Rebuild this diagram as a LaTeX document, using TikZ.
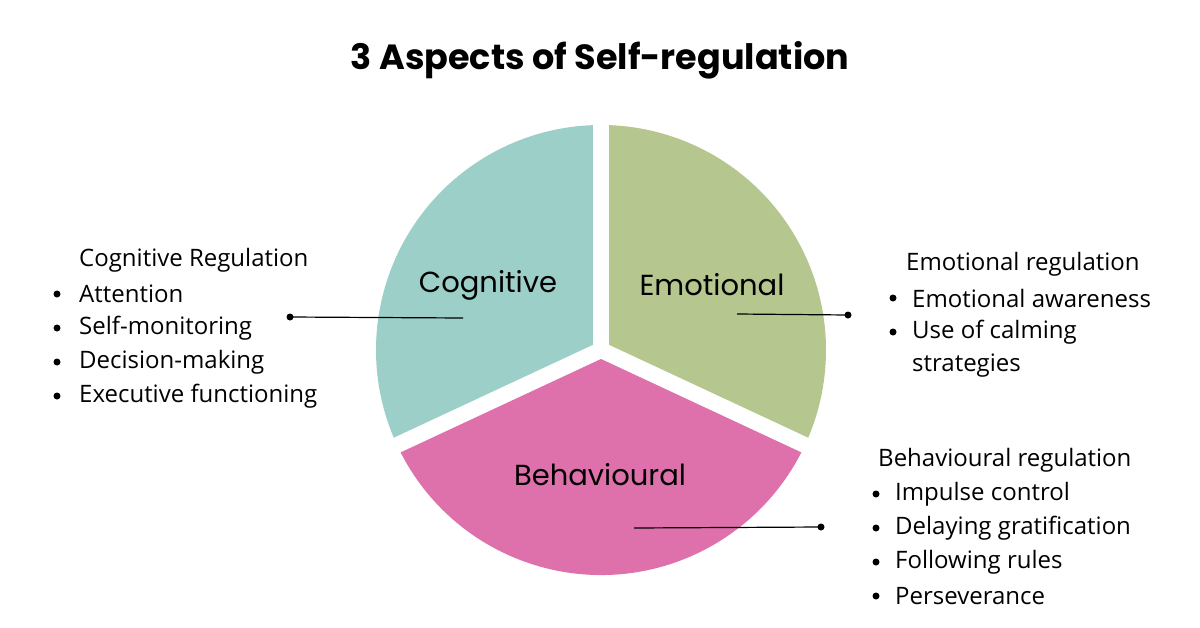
\documentclass[tikz,border=0pt]{standalone}
\usepackage{fontspec}
\setmainfont{Open Sans}
\newfontfamily\titlefont{Poppins}
\begin{document}
\begin{tikzpicture}[x=1pt,y=-1pt,
  txt/.style={anchor=west,inner sep=0pt,font=\fontsize{24}{26}\selectfont},
  bul/.style={circle,fill=black,inner sep=0pt,minimum size=7pt},
  lab/.style={font=\titlefont\fontsize{29}{32}\selectfont},
  conn/.style={line width=1.2pt},
  dot/.style={circle,fill=black,inner sep=0pt,minimum size=7pt}]
\useasboundingbox (0,0) rectangle (1200,627);
\fill[white] (0,0) rectangle (1200,627);
\definecolor{cog}{HTML}{9BCFC8}
\definecolor{emo}{HTML}{B5C68E}
\definecolor{beh}{HTML}{DE70AB}
\coordinate (c) at (601,350);
\fill[cog] (c) -- ++(90:-225) arc[start angle=-90,end angle=-205,radius=225] -- cycle;
\fill[emo] (c) -- ++(90:-225) arc[start angle=-90,end angle=25,radius=225] -- cycle;
\fill[beh] (c) -- ++(155:225) arc[start angle=155,end angle=25,radius=225] -- cycle;
\draw[white,line width=16pt] (c) -- ++(0,-240);
\draw[white,line width=16pt] (c) -- ++(155:240);
\draw[white,line width=16pt] (c) -- ++(25:240);
\node[font=\titlefont\bfseries\fontsize{35}{40}\selectfont] (title) at (600,60) {3 Aspects of Self-regulation};
\node[lab] (cogl) at (488,285) {Cognitive};
\node[lab] (emol) at (712,285) {Emotional};
\node[lab] (behl) at (600,475) {Behavioural};
% left
\node[txt] (ch) at (79,260) {Cognitive Regulation};
\foreach \t/\y/\n in {Attention/294/c1,Self-monitoring/328/c2,Decision-making/362/c3,Executive functioning/396/c4}{
  \node[bul] (\n b) at (57,\y) {}; \node[txt] (\n) at (79,\y) {\t};}
% emotional
\node[txt] (eh) at (906,264) {Emotional regulation};
\node[bul] (e1b) at (893,298) {}; \node[txt] (e1) at (912,298) {Emotional awareness};
\node[bul] (e2b) at (893,332) {}; \node[txt] (e2) at (912,332) {Use of calming};
\node[txt] (e3) at (912,366) {strategies};
% behavioural
\node[txt] (bh) at (878,460) {Behavioural regulation};
\foreach \t/\y/\n in {Impulse control/494/b1,Delaying gratification/528/b2,Following rules/562/b3,Perseverance/596/b4}{
  \node[bul] (\n b) at (876,\y) {}; \node[txt] (\n) at (895,\y) {\t};}
% connectors
\node[dot] (d1) at (290,317) {}; \coordinate (p1) at (463,318);
\node[dot] (d2) at (848,315) {}; \coordinate (p2) at (737,314);
\node[dot] (d3) at (821,527) {}; \coordinate (p3) at (634,528);
\draw[conn] (d1.center) -- (p1);
\draw[conn] (d2.center) -- (p2);
\draw[conn] (d3.center) -- (p3);
\end{tikzpicture}
\end{document}
